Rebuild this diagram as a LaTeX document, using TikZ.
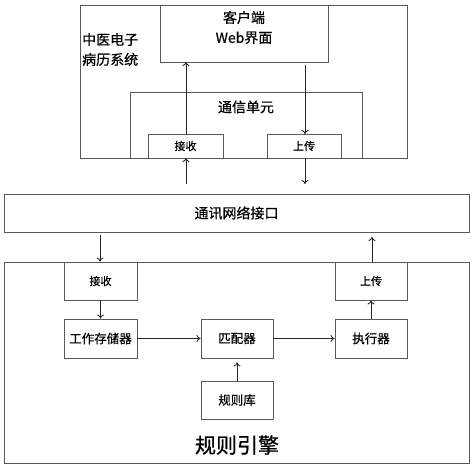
\documentclass[tikz,border=0pt]{standalone}
\usepackage{fontspec}
\setmainfont{Noto Sans CJK SC}[AutoFakeBold=0.6]
\usetikzlibrary{arrows.meta}
\begin{document}
\begin{tikzpicture}[x=1pt,y=-1pt,
  box/.style={draw=black!65, line width=0.9pt, rectangle, inner sep=0pt},
  lbl/.style={font=\fontsize{14}{20}\selectfont\bfseries, text=black, inner sep=0pt, align=center},
  small/.style={font=\fontsize{11}{13}\selectfont\bfseries, text=black},
  mid/.style={font=\fontsize{12.5}{14}\selectfont\bfseries, text=black},
  arr/.style={-{To[length=4pt,width=7pt]}, line width=0.9pt, draw=black!85}]
\useasboundingbox (0,0) rectangle (474,468);
\fill[white] (0,0) rectangle (474,468);
% system
\node[box, minimum width=327pt, minimum height=153pt] (sys) at (243.5,81.5) {};
\node[box, minimum width=168pt, minimum height=57pt] (client) at (244,33.5) {};
\node[box, minimum width=232pt, minimum height=66pt] (comm) at (246,125) {};
\node[box, small, minimum width=75pt, minimum height=24pt] (rx1) at (185.5,146) {接收};
\node[box, small, minimum width=74pt, minimum height=24pt] (up1) at (304,146) {上传};
\node[lbl] (clientlbl) at (244,27.5) {客户端\\Web界面};
\node[lbl, anchor=west, align=left] (syslbl) at (82,49.5) {中医电子\\病历系统};
\node[lbl] (commlbl) at (246,107) {通信单元};
% network
\node[box, lbl, minimum width=465pt, minimum height=38pt] (net) at (236.5,213) {通讯网络接口};
% engine
\node[box, minimum width=465pt, minimum height=201pt] (eng) at (236.5,362.5) {};
\node[box, small, minimum width=73pt, minimum height=38pt] (rx2) at (100.5,281) {接收};
\node[box, small, minimum width=72pt, minimum height=38pt] (up2) at (371,281) {上传};
\node[box, mid, minimum width=73pt, minimum height=39pt] (wm) at (100.5,338.5) {工作存储器};
\node[box, mid, minimum width=72pt, minimum height=39pt] (match) at (237,338.5) {匹配器};
\node[box, mid, minimum width=72pt, minimum height=39pt] (exec) at (371,338.5) {执行器};
\node[box, mid, minimum width=72pt, minimum height=38pt] (rules) at (237,400) {规则库};
\node[font=\fontsize{21}{24}\selectfont\bfseries, text=black, inner sep=0pt] (englbl) at (237,445) {规则引擎};
% free ends
\coordinate (in1) at (186,184);
\coordinate (out1) at (305,184);
% arrows in system
\draw[arr] (186,134) -- (186,62);
\draw[arr] (305,65) -- (305,134);
\draw[arr] (in1) -- (186,158);
\draw[arr] (305,158) -- (out1);
% arrows network <-> engine
\draw[arr] (100,235) -- (rx2.north -| 100,0);
\draw[arr] (up2.north -| 372,0) -- (372,237);
% engine arrows
\draw[arr] (rx2.south) -- (wm.north);
\draw[arr] (wm.east) -- (match.west);
\draw[arr] (match.east) -- (exec.west);
\draw[arr] (rules.north) -- ([yshift=-4pt]match.south);
\draw[arr] (exec.north) -- (up2.south);
\end{tikzpicture}
\end{document}
